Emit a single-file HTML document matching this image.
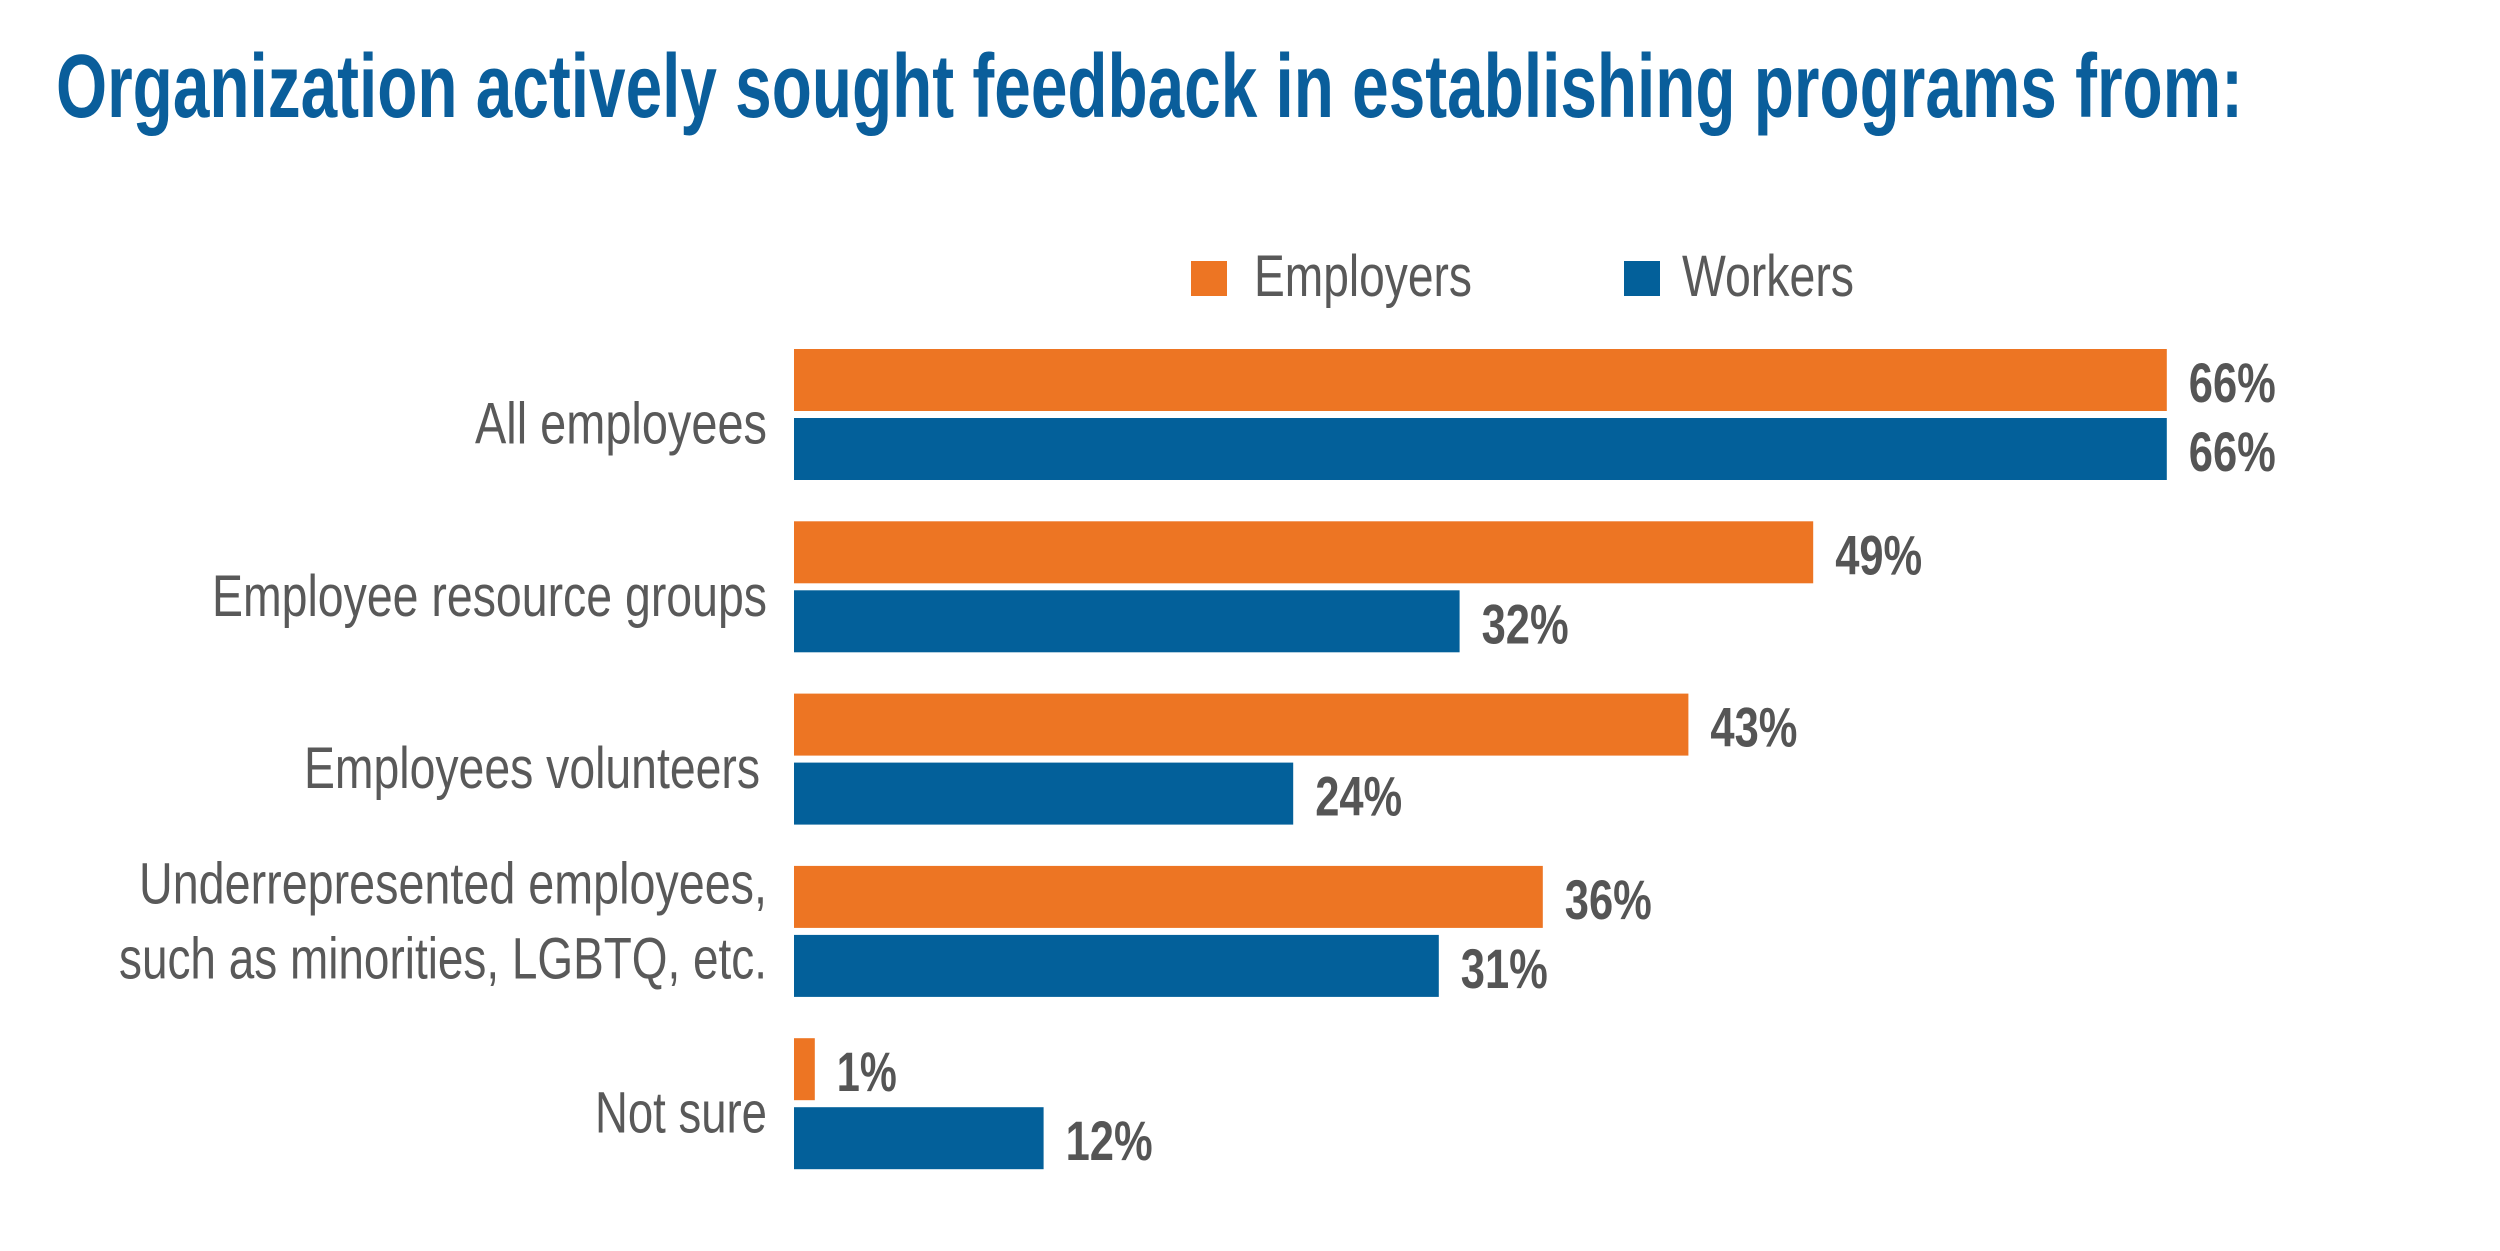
<!DOCTYPE html>
<html><head><meta charset="utf-8"><style>
html,body{margin:0;padding:0;background:#fff;}
svg{display:block;}
</style></head><body>
<svg id="chart" width="2500" height="1251" viewBox="0 0 2500 1251" xmlns="http://www.w3.org/2000/svg">
<text x="56" y="117" font-family="Liberation Sans, sans-serif" font-weight="bold" font-size="90" fill="#0a5e9b" textLength="2187" lengthAdjust="spacingAndGlyphs">Organization actively sought feedback in establishing programs from:</text>
<g>
<rect x="1191" y="261" width="36" height="35" fill="#ed7523"/>
<text x="1254" y="296" font-family="Liberation Sans, sans-serif" font-size="58" fill="#595959" textLength="218" lengthAdjust="spacingAndGlyphs">Employers</text>
<rect x="1624" y="261" width="36" height="35" fill="#03609a"/>
<text x="1682" y="296" font-family="Liberation Sans, sans-serif" font-size="58" fill="#595959" textLength="172" lengthAdjust="spacingAndGlyphs">Workers</text>
</g>
<g id="bars"></g>
<g id="cats"></g>
</svg>
<script>
const categories = [["All employees"], ["Employee resource groups"], ["Employees volunteers"], ["Underrepresented employees,", "such as minorities, LGBTQ, etc."], ["Not sure"]];
const employers = [66, 49, 43, 36, 1];
const workers = [66, 32, 24, 31, 12];

const NS = "http://www.w3.org/2000/svg";
const x0 = 794, pxPer = 20.8;
const top0 = 349, pitch = 172.3, barH = 62, gap = 7;
function xScale(v){ return x0 + v * pxPer; }
function groupTop(i){ return top0 + i * pitch; }
const catWidths = {"All employees":292,"Employee resource groups":555,"Employees volunteers":456,"Underrepresented employees,":628,"such as minorities, LGBTQ, etc.":648,"Not sure":172};
const barsG = document.getElementById('bars');
const catsG = document.getElementById('cats');
function mk(tag, attrs){ const e = document.createElementNS(NS, tag); for (const k in attrs) e.setAttribute(k, attrs[k]); return e; }

categories.forEach((cat, i) => {
  const series = [[employers[i], '#ed7523', 'employers'], [workers[i], '#03609a', 'workers']];
  series.forEach((s, j) => {
    const y = groupTop(i) + j * (barH + gap);
    const r = mk('rect', {x: x0, y: y, width: xScale(s[0]) - x0, height: barH, fill: s[1]});
    
    
    barsG.appendChild(r);
    const label = s[0] + '%';
    const t = mk('text', {x: xScale(s[0]) + 22, y: y + barH/2 + 22, 'font-family': 'Liberation Sans, sans-serif', 'font-weight': 'bold', 'font-size': '56', fill: '#555555', textLength: (label.length === 2 ? 60 : 87), lengthAdjust: 'spacingAndGlyphs'});
    t.textContent = label;
    
    
    barsG.appendChild(t);
  });
  const center = groupTop(i) + barH + gap/2;
  const lines = cat;
  lines.forEach((ln, k) => {
    const baseline = lines.length === 1 ? center + 29 : center - 28 + k * 75;
    const rightX = ln === "Employees volunteers" ? 760 : 767;
    const t = mk('text', {x: rightX, y: baseline, 'text-anchor': 'end', 'font-family': 'Liberation Sans, sans-serif', 'font-size': '58', fill: '#595959', textLength: catWidths[ln], lengthAdjust: 'spacingAndGlyphs'});
    t.textContent = ln;
    
    
    catsG.appendChild(t);
  });
});
</script>
</body></html>
